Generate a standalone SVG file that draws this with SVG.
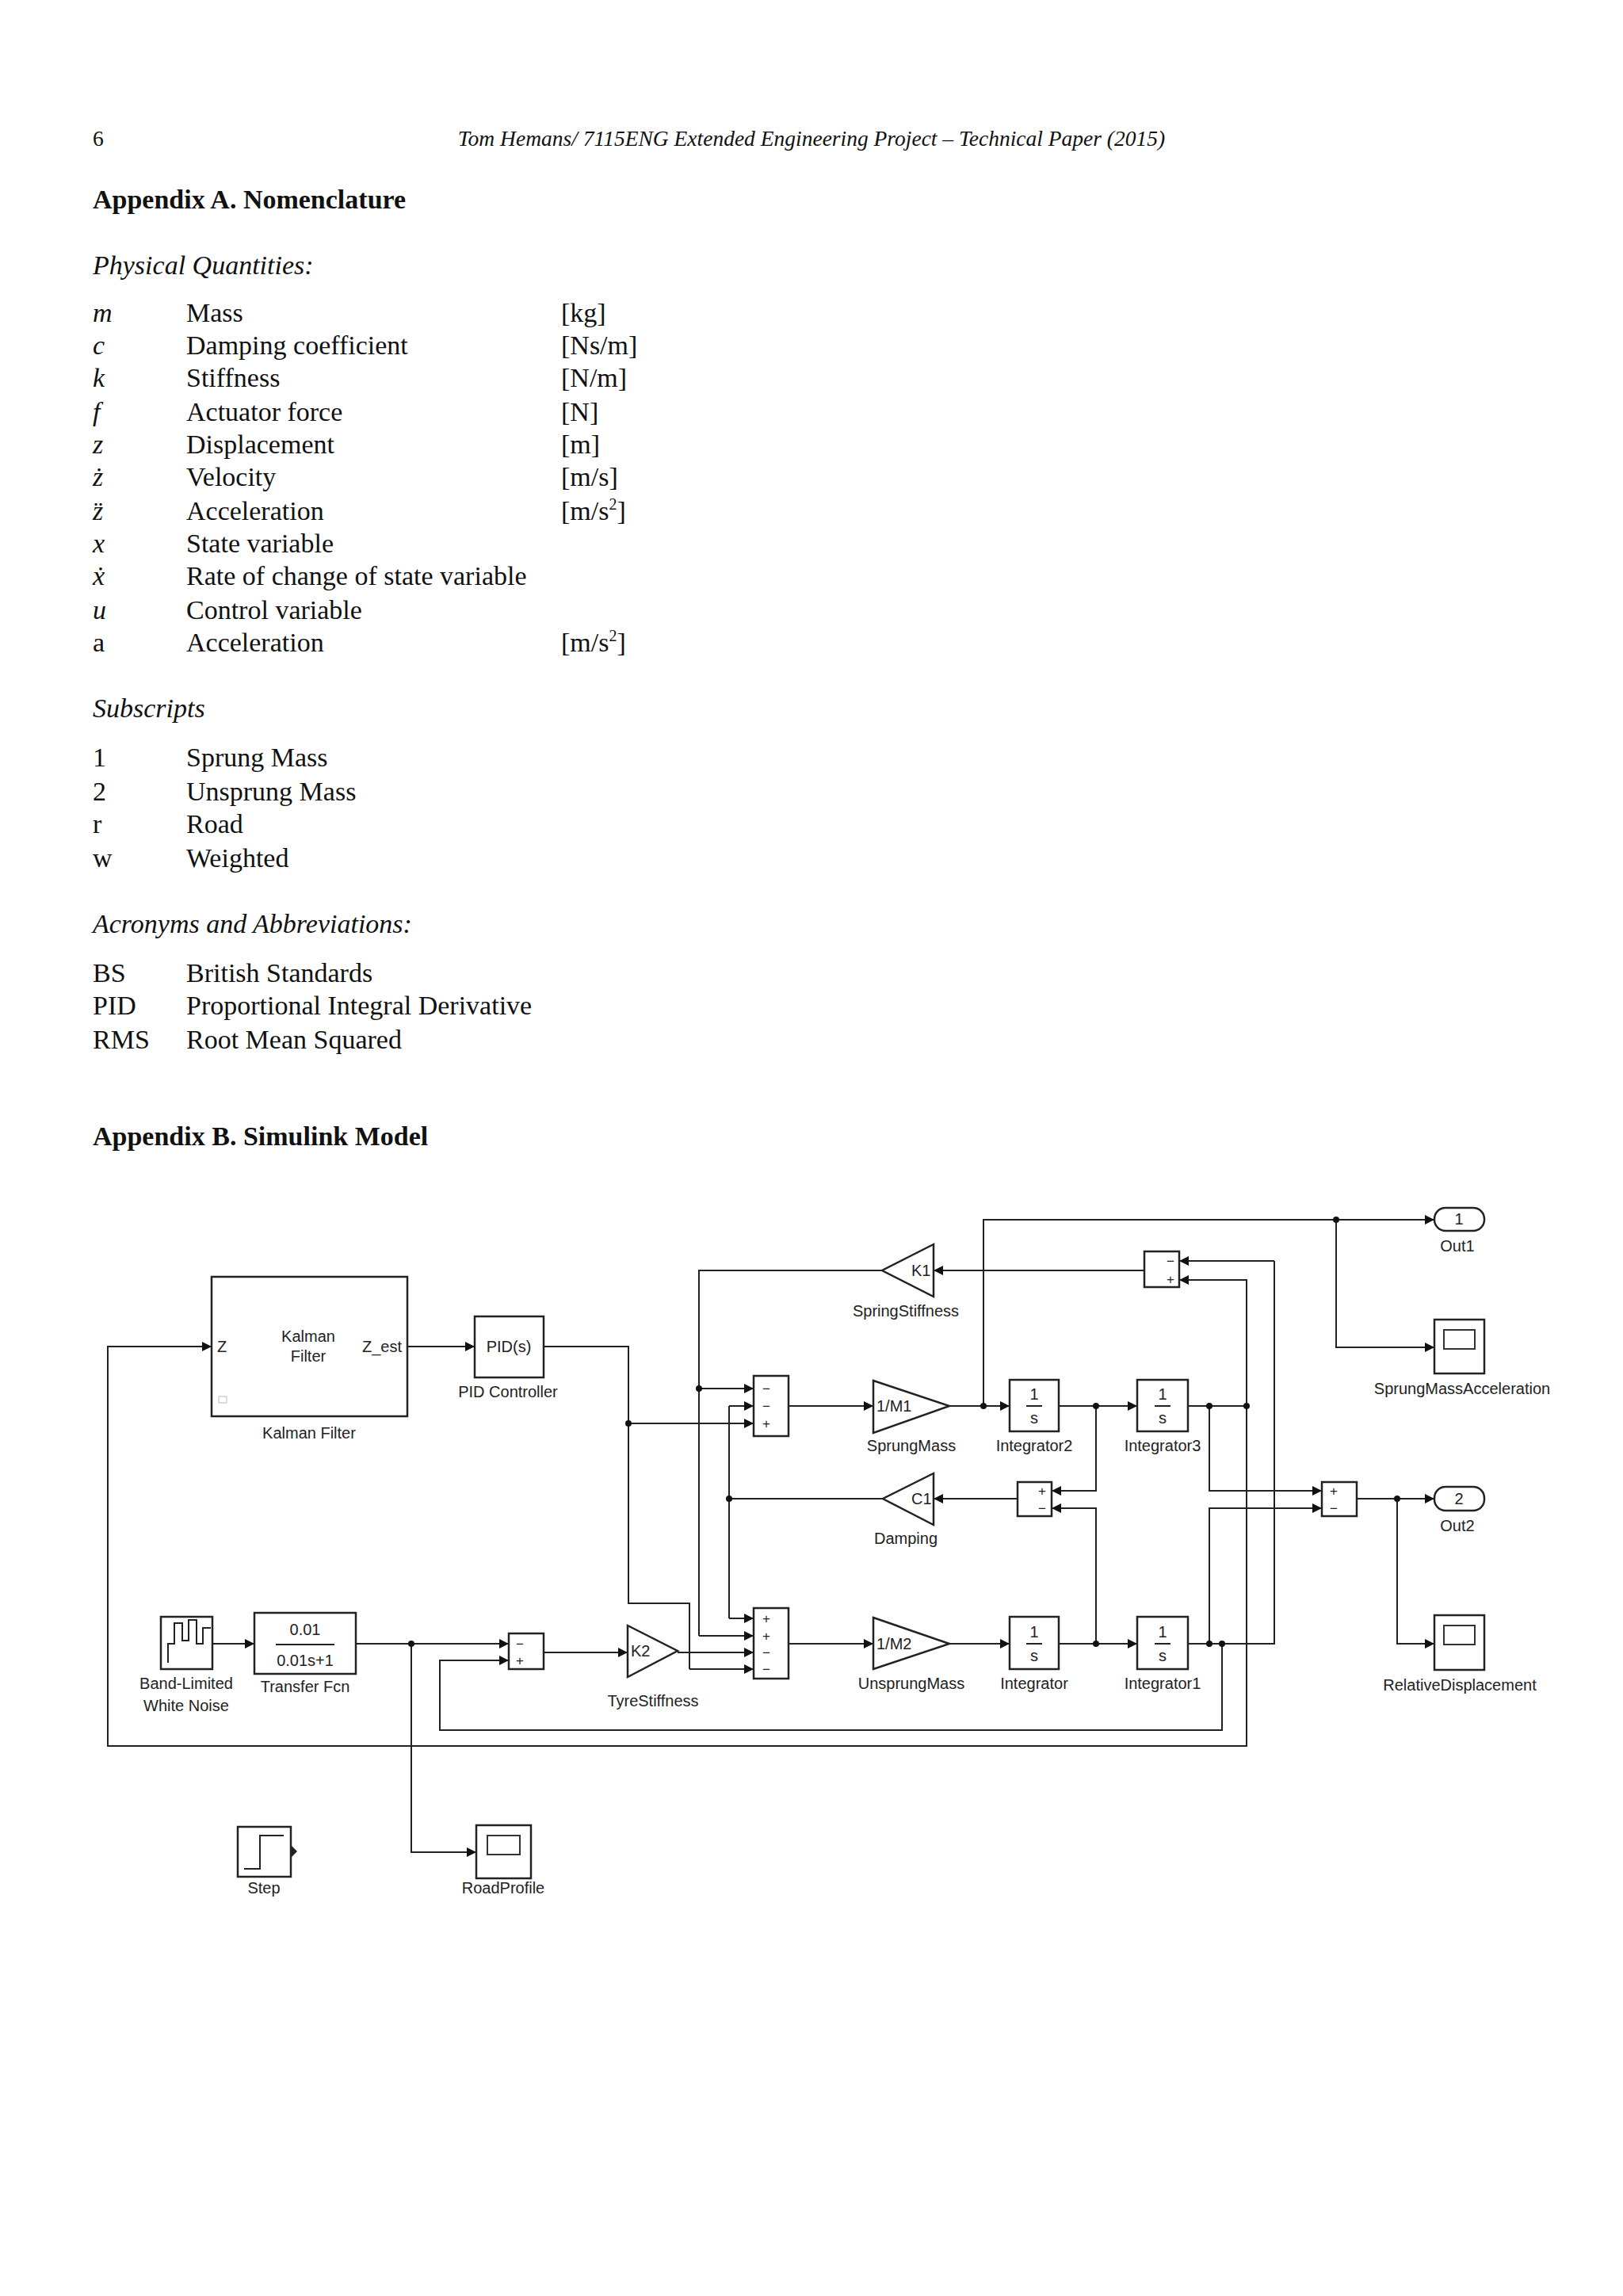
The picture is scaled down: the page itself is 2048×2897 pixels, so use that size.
<svg xmlns="http://www.w3.org/2000/svg" width="2048" height="2897" viewBox="0 0 2048 2897">
<defs>
<marker id="ar" viewBox="0 0 10 10" refX="10" refY="5" markerWidth="12" markerHeight="12" markerUnits="userSpaceOnUse" orient="auto"><path d="M0,0 L10,5 L0,10 z" fill="#111"/></marker>
<style>
.t{font-family:"Liberation Serif",serif;font-size:34px;fill:#111}
.h{font-size:27.5px}
.sup{font-size:20px}
.i{font-style:italic}
.b{font-weight:bold}
.s{font-family:"Liberation Sans",Arial,sans-serif;font-size:20px;fill:#222}
.sm{font-family:"Liberation Sans",Arial,sans-serif;font-size:17px;fill:#222}
.blk{fill:#fff;stroke:#222;stroke-width:2.5}
.w{fill:none;stroke:#222;stroke-width:2}
.wa{fill:none;stroke:#222;stroke-width:2;marker-end:url(#ar)}
</style>
</defs>
<rect width="2048" height="2897" fill="#fff"/>
<g id="page-text">
<text class="t h" x="117" y="184">6</text>
<text class="t i h" x="1024" y="184" text-anchor="middle">Tom Hemans/ 7115ENG Extended Engineering Project – Technical Paper (2015)</text>
<text class="t b" x="117" y="263">Appendix A. Nomenclature</text>
<text class="t i" x="117" y="346">Physical Quantities:</text>
<text class="t i" x="117" y="406">m</text><text class="t" x="235" y="406">Mass</text><text class="t" x="708" y="406">[kg]</text>
<text class="t i" x="117" y="447">c</text><text class="t" x="235" y="447">Damping coefficient</text><text class="t" x="708" y="447">[Ns/m]</text>
<text class="t i" x="117" y="488">k</text><text class="t" x="235" y="488">Stiffness</text><text class="t" x="708" y="488">[N/m]</text>
<text class="t i" x="117" y="531">f</text><text class="t" x="235" y="531">Actuator force</text><text class="t" x="708" y="531">[N]</text>
<text class="t i" x="117" y="572">z</text><text class="t" x="235" y="572">Displacement</text><text class="t" x="708" y="572">[m]</text>
<text class="t i" x="117" y="613">ż</text><text class="t" x="235" y="613">Velocity</text><text class="t" x="708" y="613">[m/s]</text>
<text class="t i" x="117" y="656">z̈</text><text class="t" x="235" y="656">Acceleration</text><text class="t" x="708" y="656">[m/s<tspan class="sup" dy="-13">2</tspan><tspan dy="13">]</tspan></text>
<text class="t i" x="117" y="697">x</text><text class="t" x="235" y="697">State variable</text>
<text class="t i" x="117" y="738">ẋ</text><text class="t" x="235" y="738">Rate of change of state variable</text>
<text class="t i" x="117" y="781">u</text><text class="t" x="235" y="781">Control variable</text>
<text class="t" x="117" y="822">a</text><text class="t" x="235" y="822">Acceleration</text><text class="t" x="708" y="822">[m/s<tspan class="sup" dy="-13">2</tspan><tspan dy="13">]</tspan></text>
<text class="t i" x="117" y="905">Subscripts</text>
<text class="t" x="117" y="967">1</text><text class="t" x="235" y="967">Sprung Mass</text>
<text class="t" x="117" y="1010">2</text><text class="t" x="235" y="1010">Unsprung Mass</text>
<text class="t" x="117" y="1051">r</text><text class="t" x="235" y="1051">Road</text>
<text class="t" x="117" y="1094">w</text><text class="t" x="235" y="1094">Weighted</text>
<text class="t i" x="117" y="1177">Acronyms and Abbreviations:</text>
<text class="t" x="117" y="1239">BS</text><text class="t" x="235" y="1239">British Standards</text>
<text class="t" x="117" y="1280">PID</text><text class="t" x="235" y="1280">Proportional Integral Derivative</text>
<text class="t" x="117" y="1323">RMS</text><text class="t" x="235" y="1323">Root Mean Squared</text>
<text class="t b" x="117" y="1445">Appendix B. Simulink Model</text>
</g>
<g id="connectors">
<path class="wa" d="M1573,1774 V2203 H136 V1699 H267"/>
<path class="wa" d="M514,1699 H599"/>
<path class="w" d="M686,1699 H793 V2023 H870 V2106"/>
<path class="wa" d="M870,2106 H951"/>
<path class="wa" d="M793,1796 H951"/>
<path class="w" d="M1113,1603 H882 V2064"/>
<path class="wa" d="M882,1752 H951"/>
<path class="wa" d="M882,2064 H951"/>
<path class="w" d="M1114,1891 H920"/>
<path class="w" d="M920,1774 V2042"/>
<path class="wa" d="M920,1774 H951"/>
<path class="wa" d="M920,2042 H951"/>
<path class="wa" d="M995,1774 H1102"/>
<path class="wa" d="M1198,1774 H1274"/>
<path class="wa" d="M1336,1774 H1435"/>
<path class="w" d="M1499,1774 H1573"/>
<path class="wa" d="M1241,1774 V1539 H1810"/>
<path class="wa" d="M1686,1539 V1700 H1810"/>
<path class="wa" d="M1383,1774 V1881 H1327"/>
<path class="wa" d="M1526,1774 V1881 H1668"/>
<path class="wa" d="M1573,1774 V1615 H1488"/>
<path class="wa" d="M1444,1603 H1178"/>
<path class="wa" d="M1284,1891 H1178"/>
<path class="wa" d="M995,2074 H1102"/>
<path class="wa" d="M1198,2074 H1274"/>
<path class="wa" d="M1336,2074 H1435"/>
<path class="w" d="M1499,2074 H1608 V1591"/>
<path class="wa" d="M1608,1591 H1488"/>
<path class="wa" d="M1383,2074 V1903 H1327"/>
<path class="wa" d="M1526,2074 V1903 H1668"/>
<path class="wa" d="M1542,2074 V2183 H555 V2095 H642"/>
<path class="wa" d="M1712,1891 H1810"/>
<path class="wa" d="M1763,1891 V2074 H1810"/>
<path class="wa" d="M268,2074 H321"/>
<path class="wa" d="M449,2074 H642"/>
<path class="wa" d="M519,2074 V2337 H601"/>
<path class="wa" d="M686,2085 H792"/>
<path class="wa" d="M855,2085 H951"/>
<g fill="#111">
<circle cx="793" cy="1796" r="4"/><circle cx="882" cy="1752" r="4"/><circle cx="920" cy="1891" r="4"/>
<circle cx="1241" cy="1774" r="4"/><circle cx="1383" cy="1774" r="4"/><circle cx="1526" cy="1774" r="4"/><circle cx="1573" cy="1774" r="4"/>
<circle cx="1686" cy="1539" r="4"/><circle cx="1383" cy="2074" r="4"/><circle cx="1526" cy="2074" r="4"/><circle cx="1542" cy="2074" r="4"/>
<circle cx="1763" cy="1891" r="4"/><circle cx="519" cy="2074" r="4"/>
</g>
</g>
<g id="kalman">
<rect class="blk" x="267" y="1611" width="247" height="176"/>
<text class="s" x="389" y="1693" text-anchor="middle">Kalman</text>
<text class="s" x="389" y="1718" text-anchor="middle">Filter</text>
<text class="s" x="274" y="1706">Z</text>
<text class="s" x="507" y="1706" text-anchor="end">Z_est</text>
<path d="M276,1770 h10 v-8 h-10 z" fill="none" stroke="#bbb"/>
<text class="s" x="390" y="1815" text-anchor="middle">Kalman Filter</text>
</g>
<g id="pid">
<rect class="blk" x="599" y="1661" width="87" height="77"/>
<text class="s" x="642" y="1706" text-anchor="middle">PID(s)</text>
<text class="s" x="641" y="1763" text-anchor="middle">PID Controller</text>
</g>
<g id="sum1">
<rect class="blk" x="951" y="1736" width="44" height="76"/>
<text class="sm" x="962" y="1758">−</text><text class="sm" x="962" y="1780">−</text><text class="sm" x="962" y="1802">+</text>
</g>
<g id="sum2">
<rect class="blk" x="951" y="2029" width="44" height="89"/>
<text class="sm" x="962" y="2048">+</text><text class="sm" x="962" y="2070">+</text><text class="sm" x="962" y="2091">−</text><text class="sm" x="962" y="2112">−</text>
</g>
<g id="sprungmass">
<path class="blk" d="M1102,1742 L1198,1774 L1102,1808 Z"/>
<text class="s" x="1106" y="1781">1/M1</text>
<text class="s" x="1150" y="1831" text-anchor="middle">SprungMass</text>
</g>
<g id="integrator2">
<rect class="blk" x="1274" y="1741" width="62" height="65"/>
<text class="s" x="1305" y="1766" text-anchor="middle">1</text><path class="w" d="M1295,1774 h20"/><text class="s" x="1305" y="1796" text-anchor="middle">s</text>
<text class="s" x="1305" y="1831" text-anchor="middle">Integrator2</text>
</g>
<g id="integrator3">
<rect class="blk" x="1435" y="1741" width="64" height="65"/>
<text class="s" x="1467" y="1766" text-anchor="middle">1</text><path class="w" d="M1457,1774 h20"/><text class="s" x="1467" y="1796" text-anchor="middle">s</text>
<text class="s" x="1467" y="1831" text-anchor="middle">Integrator3</text>
</g>
<g id="springsum">
<rect class="blk" x="1444" y="1579" width="44" height="45"/>
<text class="sm" x="1472" y="1597">−</text><text class="sm" x="1472" y="1620">+</text>
</g>
<g id="springstiffness">
<path class="blk" d="M1178,1570 L1113,1603 L1178,1636 Z"/>
<text class="s" x="1150" y="1610">K1</text>
<text class="s" x="1143" y="1661" text-anchor="middle">SpringStiffness</text>
</g>
<g id="dampsum">
<rect class="blk" x="1284" y="1870" width="43" height="43"/>
<text class="sm" x="1310" y="1887">+</text><text class="sm" x="1310" y="1909">−</text>
</g>
<g id="damping">
<path class="blk" d="M1178,1859 L1114,1891 L1178,1924 Z"/>
<text class="s" x="1150" y="1898">C1</text>
<text class="s" x="1143" y="1948" text-anchor="middle">Damping</text>
</g>
<g id="unsprungmass">
<path class="blk" d="M1102,2041 L1198,2074 L1102,2106 Z"/>
<text class="s" x="1106" y="2081">1/M2</text>
<text class="s" x="1150" y="2131" text-anchor="middle">UnsprungMass</text>
</g>
<g id="integrator">
<rect class="blk" x="1274" y="2040" width="62" height="66"/>
<text class="s" x="1305" y="2066" text-anchor="middle">1</text><path class="w" d="M1295,2074 h20"/><text class="s" x="1305" y="2096" text-anchor="middle">s</text>
<text class="s" x="1305" y="2131" text-anchor="middle">Integrator</text>
</g>
<g id="integrator1">
<rect class="blk" x="1435" y="2040" width="64" height="66"/>
<text class="s" x="1467" y="2066" text-anchor="middle">1</text><path class="w" d="M1457,2074 h20"/><text class="s" x="1467" y="2096" text-anchor="middle">s</text>
<text class="s" x="1467" y="2131" text-anchor="middle">Integrator1</text>
</g>
<g id="sum3">
<rect class="blk" x="1668" y="1870" width="44" height="43"/>
<text class="sm" x="1678" y="1887">+</text><text class="sm" x="1678" y="1909">−</text>
</g>
<g id="out1">
<rect class="blk" x="1810" y="1524" width="63" height="29" rx="14"/>
<text class="s" x="1841" y="1545" text-anchor="middle">1</text>
<text class="s" x="1839" y="1579" text-anchor="middle">Out1</text>
</g>
<g id="sprungmassacceleration">
<rect class="blk" x="1810" y="1665" width="63" height="68"/>
<rect x="1822" y="1678" width="39" height="24" fill="#fff" stroke="#333" stroke-width="2"/>
<text class="s" x="1845" y="1759" text-anchor="middle">SprungMassAcceleration</text>
</g>
<g id="out2">
<rect class="blk" x="1810" y="1876" width="63" height="30" rx="14"/>
<text class="s" x="1841" y="1898" text-anchor="middle">2</text>
<text class="s" x="1839" y="1932" text-anchor="middle">Out2</text>
</g>
<g id="relativedisplacement">
<rect class="blk" x="1810" y="2038" width="63" height="69"/>
<rect x="1822" y="2051" width="39" height="24" fill="#fff" stroke="#333" stroke-width="2"/>
<text class="s" x="1842" y="2133" text-anchor="middle">RelativeDisplacement</text>
</g>
<g id="noise">
<rect class="blk" x="203" y="2040" width="65" height="66"/>
<path class="w" d="M212,2098 v-24 h8 v-26 h10 v22 h8 v-26 h10 v30 h8 v-20 h10"/>
<text class="s" x="235" y="2131" text-anchor="middle">Band-Limited</text>
<text class="s" x="235" y="2159" text-anchor="middle">White Noise</text>
</g>
<g id="transferfcn">
<rect class="blk" x="321" y="2035" width="128" height="77"/>
<text class="s" x="385" y="2063" text-anchor="middle">0.01</text>
<path class="w" d="M348,2075 h74"/>
<text class="s" x="385" y="2102" text-anchor="middle">0.01s+1</text>
<text class="s" x="385" y="2135" text-anchor="middle">Transfer Fcn</text>
</g>
<g id="tyresum">
<rect class="blk" x="642" y="2061" width="44" height="45"/>
<text class="sm" x="651" y="2080">−</text><text class="sm" x="651" y="2101">+</text>
</g>
<g id="tyrestiffness">
<path class="blk" d="M792,2051 L855,2083 L792,2116 Z"/>
<text class="s" x="796" y="2090">K2</text>
<text class="s" x="824" y="2153" text-anchor="middle">TyreStiffness</text>
</g>
<g id="step">
<rect class="blk" x="300" y="2305" width="67" height="63"/>
<path class="w" d="M308,2358 h20 v-42 h30"/>
<path d="M367,2328 l8,8 l-8,8 z" fill="#222"/>
<text class="s" x="333" y="2389" text-anchor="middle">Step</text>
</g>
<g id="roadprofile">
<rect class="blk" x="601" y="2303" width="69" height="67"/>
<rect x="615" y="2316" width="41" height="24" fill="#fff" stroke="#333" stroke-width="2"/>
<text class="s" x="635" y="2389" text-anchor="middle">RoadProfile</text>
</g>
</svg>
